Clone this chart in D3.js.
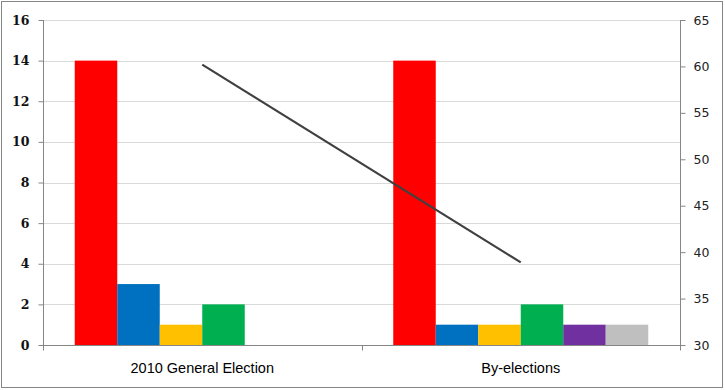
<!DOCTYPE html>
<html>
<head>
<meta charset="utf-8">
<script src="https://cdn.jsdelivr.net/npm/d3@7"></script>
<style>
  html, body { margin: 0; padding: 0; background: #fff; }
  svg { display: block; }
</style>
</head>
<body>
<svg id="chart" width="725" height="390"></svg>
<script>
// ---- data ----
const categories = ["2010 General Election", "By-elections"];
const seriesNames = ["Red", "Blue", "Yellow", "Green", "Purple", "Grey"];
const seriesColors = ["#FF0000", "#0070C0", "#FFC000", "#00B050", "#7030A0", "#BFBFBF"];
const redValues    = [14, 14];
const blueValues   = [3, 1];
const yellowValues = [1, 1];
const greenValues  = [2, 2];
const purpleValues = [0, 1];
const greyValues   = [0, 1];
const lineValues   = [60.2, 38.9];
const leftTicks  = [0, 2, 4, 6, 8, 10, 12, 14, 16];
const rightTicks = [30, 35, 40, 45, 50, 55, 60, 65];

const seriesValues = [redValues, blueValues, yellowValues, greenValues, purpleValues, greyValues];

// ---- layout ----
const pL = 43, pR = 680, pT = 20, pB = 345;
const svg = d3.select("#chart");

svg.append("rect")
  .attr("x", 1.5).attr("y", 1.5).attr("width", 721).attr("height", 386)
  .attr("fill", "#fff").attr("stroke", "#868686").attr("stroke-width", 1);

const x0 = d3.scaleBand().domain(categories).range([pL, pR]).paddingInner(0).paddingOuter(0);
const x1 = d3.scaleBand().domain(seriesNames).range([0, x0.bandwidth()]).paddingInner(0).paddingOuter(0.747);
const yL = d3.scaleLinear().domain([0, 16]).range([pB, pT]);
const yR = d3.scaleLinear().domain([30, 65]).range([pB, pT]);

// gridlines
svg.append("g").selectAll("line").data(leftTicks.filter(d => d > 0)).join("line")
  .attr("x1", pL).attr("x2", pR)
  .attr("y1", d => Math.round(yL(d)) + 0.5).attr("y2", d => Math.round(yL(d)) + 0.5)
  .attr("stroke", "#D9D9D9").attr("stroke-width", 1);

// bars
const groups = svg.append("g").selectAll("g").data(categories).join("g")
  .attr("transform", d => `translate(${x0(d)},0)`);
groups.selectAll("rect")
  .data((c, ci) => seriesNames.map((s, si) => ({ s, si, v: seriesValues[si][ci] })).filter(d => d.v > 0))
  .join("rect")
  .attr("x", d => x1(d.s))
  .attr("width", x1.bandwidth())
  .attr("y", d => yL(d.v))
  .attr("height", d => yL(0) - yL(d.v))
  .attr("fill", d => seriesColors[d.si]);

// line
const line = d3.line()
  .x((d, i) => x0(categories[i]) + x0.bandwidth() / 2)
  .y(d => yR(d));
svg.append("path").datum(lineValues)
  .attr("d", line).attr("fill", "none")
  .attr("stroke", "#404040").attr("stroke-width", 2.2);

// left axis
const axL = svg.append("g").attr("transform", `translate(${pL + 0.5},0)`)
  .call(d3.axisLeft(yL).tickValues(leftTicks).tickSize(5).tickPadding(9).tickSizeOuter(0));
axL.select(".domain").attr("stroke", "#868686").attr("d", `M0,${pT}V${pB + 5}`);
axL.selectAll(".tick line").attr("stroke", "#868686");
axL.selectAll("text").attr("font-family", "DejaVu Serif").attr("font-size", "12.5px")
  .attr("font-weight", "bold").attr("fill", "#111");

// right axis
const axR = svg.append("g").attr("transform", `translate(${pR + 0.5},0)`)
  .call(d3.axisRight(yR).tickValues(rightTicks).tickSize(5).tickPadding(8).tickSizeOuter(0));
axR.select(".domain").attr("stroke", "#868686").attr("d", `M0,${pT}V${pB + 5}`);
axR.selectAll(".tick line").attr("stroke", "#868686");
axR.selectAll("text").attr("font-family", "DejaVu Sans").attr("font-size", "12.5px")
  .attr("fill", "#222");

// bottom axis
const axB = svg.append("g").attr("transform", `translate(0,${pB + 0.5})`);
axB.append("line").attr("x1", pL).attr("x2", pR).attr("stroke", "#868686");
axB.selectAll("line.tk").data([pL, ...categories.map(c => x0(c) + x0.bandwidth())]).join("line")
  .attr("class", "tk")
  .attr("x1", d => Math.round(d) + 0.5).attr("x2", d => Math.round(d) + 0.5)
  .attr("y1", 0).attr("y2", 5).attr("stroke", "#868686");
axB.selectAll("text").data(categories).join("text")
  .attr("x", d => x0(d) + x0.bandwidth() / 2)
  .attr("y", 27)
  .attr("text-anchor", "middle")
  .attr("font-family", "Liberation Sans, Arial, sans-serif")
  .attr("font-size", "14.5px")
  .attr("fill", "#000")
  .text(d => d);
</script>
</body>
</html>
